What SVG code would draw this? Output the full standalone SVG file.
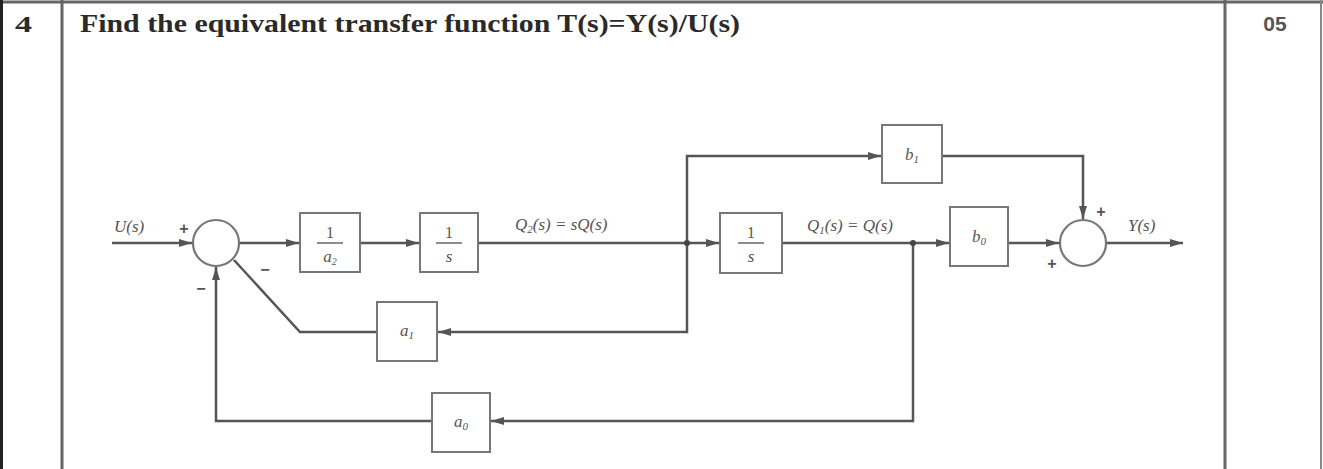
<svg xmlns="http://www.w3.org/2000/svg" width="1323" height="469" viewBox="0 0 1323 469">
<style>
.tbl{stroke:#666;stroke-width:3;fill:none}
.ln{stroke:#555;stroke-width:2.5;fill:none}
.blk{stroke:#777;stroke-width:2;fill:#fff}
.sum{stroke:#777;stroke-width:2.2;fill:#fff}
.hd{font-family:"Liberation Serif",serif;fill:#2a2a2a;font-weight:bold}
.lb{font-family:"Liberation Serif",serif;font-style:italic;font-size:17px;fill:#555}
.bt{font-family:"Liberation Serif",serif;font-style:italic;font-size:17px;fill:#555;text-anchor:middle}
.num{font-family:"Liberation Serif",serif;font-size:16px;fill:#555;text-anchor:middle}
.sg{font-family:"Liberation Sans",sans-serif;font-size:16px;font-weight:bold;fill:#555;text-anchor:middle}
.fb{stroke:#666;stroke-width:1.5}
</style>
<defs>
<marker id="ar" markerUnits="userSpaceOnUse" markerWidth="14" markerHeight="10" refX="13" refY="4" orient="auto">
<path d="M0,0 L13,4 L0,8 Z" fill="#555"/>
</marker>
</defs>
<rect width="1323" height="469" fill="#fff"/>
<g id="table">
<line x1="0" y1="2" x2="1323" y2="2" class="tbl"/>
<line x1="1.5" y1="0" x2="1.5" y2="469" stroke="#222" stroke-width="3"/>
<line x1="62" y1="0" x2="62" y2="469" class="tbl"/>
<line x1="1225" y1="0" x2="1225" y2="469" class="tbl"/>
<line x1="1321" y1="0" x2="1321" y2="469" stroke="#888" stroke-width="2"/>
<text class="hd" x="15" y="32" font-size="24" textLength="17" lengthAdjust="spacingAndGlyphs">4</text>
<text class="hd" x="80" y="32" font-size="25" textLength="660" lengthAdjust="spacingAndGlyphs">Find the equivalent transfer function T(s)=Y(s)/U(s)</text>
<text x="1275" y="31" font-size="21" text-anchor="middle" font-family="Liberation Sans" font-weight="bold" fill="#555">05</text>
</g>
<g id="connectors">
<path class="ln" d="M112,243 H192" marker-end="url(#ar)"/>
<path class="ln" d="M239,243 H299" marker-end="url(#ar)"/>
<path class="ln" d="M360,243 H419" marker-end="url(#ar)"/>
<path class="ln" d="M478,243 H719" marker-end="url(#ar)"/>
<path class="ln" d="M687,243 V156 H881" marker-end="url(#ar)"/>
<path class="ln" d="M942,156 H1083 V219" marker-end="url(#ar)"/>
<path class="ln" d="M782,243 H949" marker-end="url(#ar)"/>
<path class="ln" d="M1008,243 H1059" marker-end="url(#ar)"/>
<path class="ln" d="M1106,243 H1183" marker-end="url(#ar)"/>
<path class="ln" d="M687,243 V332 H438" marker-end="url(#ar)"/>
<path class="ln" d="M377,332 H300 L234,260"/>
<path class="ln" d="M913,243 V421 H491" marker-end="url(#ar)"/>
<path class="ln" d="M432,421 H216 V267" marker-end="url(#ar)"/>
<circle cx="687" cy="243" r="3" fill="#444"/>
<circle cx="913" cy="243" r="3" fill="#444"/>
</g>
<g id="sum1">
<circle class="sum" cx="216" cy="243" r="23"/>
<text class="sg" x="184" y="234">+</text>
<text class="sg" x="201" y="294">−</text>
<text class="sg" x="265" y="275">−</text>
</g>
<g id="sum2">
<circle class="sum" cx="1083" cy="243" r="23"/>
<text class="sg" x="1101" y="217">+</text>
<text class="sg" x="1052" y="269">+</text>
</g>
<g id="block-1-a2">
<rect class="blk" x="300" y="213" width="60" height="59"/>
<text class="num" x="330" y="238">1</text>
<line class="fb" x1="317" y1="243" x2="343" y2="243"/>
<text class="bt" x="330" y="262" font-size="15">a<tspan font-size="10" dy="3">2</tspan></text>
</g>
<g id="block-1-s-a">
<rect class="blk" x="420" y="213" width="58" height="59"/>
<text class="num" x="449" y="238">1</text>
<line class="fb" x1="436" y1="243" x2="462" y2="243"/>
<text class="bt" x="449" y="262" font-size="15">s</text>
</g>
<g id="block-1-s-b">
<rect class="blk" x="720" y="213" width="62" height="60"/>
<text class="num" x="751" y="238">1</text>
<line class="fb" x1="738" y1="243" x2="764" y2="243"/>
<text class="bt" x="751" y="262" font-size="15">s</text>
</g>
<g id="block-b1">
<rect class="blk" x="882" y="125" width="60" height="58"/>
<text class="bt" x="912" y="160">b<tspan font-size="11" dy="3">1</tspan></text>
</g>
<g id="block-b0">
<rect class="blk" x="950" y="207" width="58" height="59"/>
<text class="bt" x="979" y="242">b<tspan font-size="11" dy="3">0</tspan></text>
</g>
<g id="block-a1">
<rect class="blk" x="377" y="302" width="60" height="59"/>
<text class="bt" x="407" y="336">a<tspan font-size="11" dy="3">1</tspan></text>
</g>
<g id="block-a0">
<rect class="blk" x="432" y="393" width="58" height="59"/>
<text class="bt" x="461" y="427">a<tspan font-size="11" dy="3">0</tspan></text>
</g>
<g id="labels">
<text class="lb" x="114" y="232">U(s)</text>
<text class="lb" x="515" y="230">Q<tspan font-size="11" dy="3">2</tspan><tspan dy="-3">(s) = sQ(s)</tspan></text>
<text class="lb" x="807" y="231">Q<tspan font-size="11" dy="3">1</tspan><tspan dy="-3">(s) = Q(s)</tspan></text>
<text class="lb" x="1128" y="231">Y(s)</text>
</g>
</svg>
